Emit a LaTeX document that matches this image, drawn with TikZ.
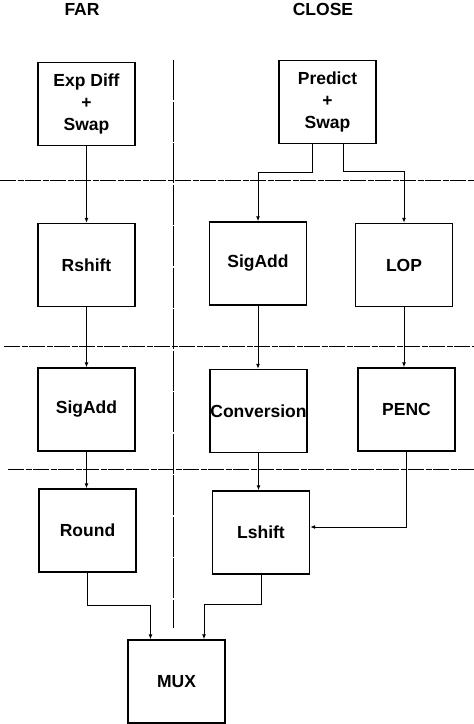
\documentclass[tikz,border=0pt]{standalone}
\usepackage{fontspec}
\setmainfont{Liberation Sans}
\usetikzlibrary{arrows.meta}
\begin{document}
\begin{tikzpicture}[x=1pt,y=-1pt,
  blk/.style={draw, line width=1.4pt, minimum width=97pt, minimum height=83pt, inner sep=0pt,
    align=center, font=\fontsize{17.5}{22}\selectfont\bfseries},
  hdr/.style={font=\fontsize{17.5}{20}\selectfont\bfseries},
  arr/.style={line width=1pt, -{Latex[length=5pt,width=4pt]}},
  sep/.style={line width=0.9pt, dash pattern=on 16pt off 1.5pt on 6pt off 1.5pt}]
\useasboundingbox (0,0) rectangle (474,724);
% separators
\coordinate (h1l) at (0,180);   \coordinate (h1r) at (474,180);
\coordinate (h2l) at (4,346);   \coordinate (h2r) at (474,346);
\coordinate (h3l) at (8,469);   \coordinate (h3r) at (474,469);
\coordinate (vt) at (173,60);   \coordinate (vb) at (173,628);
\draw[sep] (h1l) -- (h1r);
\draw[sep] (h2l) -- (h2r);
\draw[sep] (h3l) -- (h3r);
\draw[line width=1pt, dash pattern=on 40pt off 1.5pt] (vt) -- (vb);
% headers
\node[hdr] (far) at (82,9) {FAR};
\node[hdr] (close) at (323,9) {CLOSE};
% blocks
\node[blk] (ed)  at (86.5,104)  {Exp Diff\\+\\Swap};
\node[blk] (pr)  at (327.5,102) {Predict\\+\\Swap};
\node[blk] (rs)  at (86.5,265)  {Rshift};
\node[blk] (sa2) at (258,263.5) {SigAdd};
\node[blk] (lop) at (404,265)   {LOP};
\node[blk] (sa1) at (86.5,409.5){SigAdd};
\node[blk] (cv)  at (258.5,411) {Conversion};
\node[blk] (pe)  at (406.5,409.5){PENC};
\node[blk] (rd)  at (87.5,530.5){Round};
\node[blk] (ls)  at (261,532.5) {Lshift};
\node[blk] (mux) at (176.5,681.5){MUX};
% connectors
\draw[arr] (ed.south) -- (ed.south |- rs.north);
\draw[arr] ([xshift=-15pt]pr.south) -- ++(0,28) -| (sa2.north);
\draw[arr] ([xshift=16pt]pr.south) -- ++(0,27) -| (lop.north);
\draw[arr] (rs.south) -- (rs.south |- sa1.north);
\draw[arr] (sa1.south) -- (sa1.south |- rd.north);
\draw[arr] (sa2.south) -- (sa2.south |- cv.north);
\draw[arr] (cv.south) -- (cv.south |- ls.north);
\draw[arr] (lop.south) -- (lop.south |- pe.north);
\draw[arr] (pe.south) |- ([yshift=5.5pt]ls.east);
\draw[arr] (rd.south) -- ++(0,33) -| ([xshift=-26pt]mux.north);
\draw[arr] (ls.south) -- ++(0,30) -| ([xshift=27.5pt]mux.north);
\end{tikzpicture}
\end{document}
